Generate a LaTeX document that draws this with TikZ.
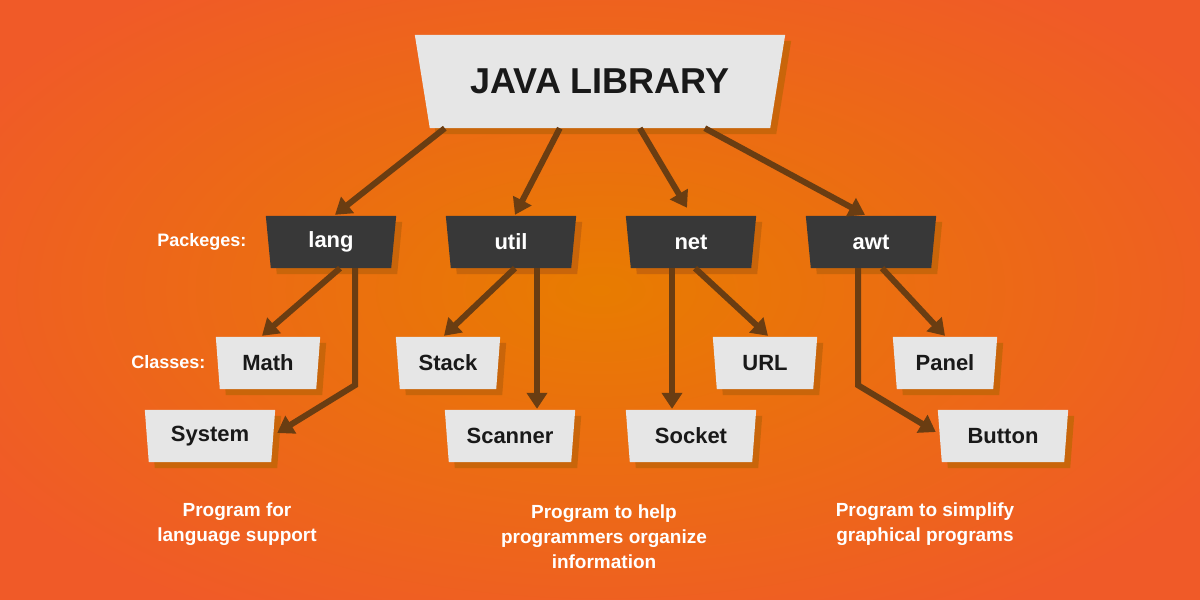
\documentclass[tikz,border=0pt]{standalone}
\usepackage{fontspec}
\setmainfont{Liberation Sans}
\usetikzlibrary{arrows.meta,calc}
\definecolor{bgout}{HTML}{F05A28}
\definecolor{bgin}{HTML}{E87C00}
\definecolor{arr}{HTML}{6A3D12}
\definecolor{dark}{HTML}{383838}
\definecolor{light}{HTML}{E6E6E6}
\definecolor{shad}{HTML}{C9650A}
\tikzset{
  arrow/.style={draw=arr,line width=6pt,-{Triangle[length=16pt,width=20pt]}},
  box/.style={minimum width=#1,minimum height=52pt,inner sep=0pt,font=\bfseries\fontsize{22}{24}\selectfont},
  pkg/.style={box=130pt,text=white},
  cls/.style={text=black!90},
  lbl/.style={text=white,font=\bfseries\fontsize{18}{20}\selectfont},
  note/.style={text=white,font=\bfseries\fontsize{19}{25}\selectfont,align=center},
}
\newcommand{\trap}[4]{% node, fill, top inset, bottom inset
  \fill[shad] ($(#1.north west)+(#3+6pt,-6pt)$) -- ($(#1.north east)+(6pt,-6pt)$) -- ($(#1.south east)+(6pt-#4,-6pt)$) -- ($(#1.south west)+(#4+6pt,-6pt)$) -- cycle;
  \fill[#2] ($(#1.north west)+(#3,0)$) -- (#1.north east) -- ($(#1.south east)+(-#4,0)$) -- ($(#1.south west)+(#4,0)$) -- cycle;}
\begin{document}
\begin{tikzpicture}[x=1pt,y=-1pt]
\useasboundingbox (0,0) rectangle (1200,600);
\fill[bgout] (0,0) rectangle (1200,600);
\begin{scope}
\clip (0,0) rectangle (1200,600);
\shade[inner color=bgin,outer color=bgout] (600,290) ellipse (720 and 380);
\end{scope}
% nodes (invisible boxes)
\node[box=370pt,minimum height=93pt] (title) at (600,81.5) {};
\node[pkg] (lang) at (331,242) {};
\node[pkg] (util) at (511,242) {};
\node[pkg] (net) at (691,242) {};
\node[pkg] (awt) at (871,242) {};
\node[box=104pt] (math) at (268,363) {};
\node[box=104pt] (stack) at (448,363) {};
\node[box=104pt] (url) at (765,363) {};
\node[box=104pt] (panel) at (945,363) {};
\node[box=130pt] (system) at (210,436) {};
\node[box=130pt] (scanner) at (510,436) {};
\node[box=130pt] (socket) at (691,436) {};
\node[box=130pt] (button) at (1003,436) {};
% shapes
\trap{title}{light}{0pt}{15pt}
\foreach \n in {lang,util,net,awt}{\trap{\n}{dark}{0pt}{5pt}}
\foreach \n in {math,stack,url,panel,system,scanner,socket,button}{\trap{\n}{light}{0pt}{4pt}}
% text
\node[font=\bfseries\fontsize{36}{40}\selectfont,text=black!90] at (title) {JAVA LIBRARY};
\node[pkg] at (lang) {lang};
\node[pkg] at (util) {util};
\node[pkg] at (net) {net};
\node[pkg] at (awt) {awt};
\foreach \n/\t in {math/Math,stack/Stack,url/URL,panel/Panel,system/System,scanner/Scanner,socket/Socket,button/Button}{\node[box=10pt,cls] at (\n) {\t};}
\node[lbl,anchor=east] (pl) at (250,242) {Packeges:};
\node[lbl,anchor=east] (cl) at (209,362) {Classes:};
\node[note] (n1) at (237,524) {Program for\\language support};
\node[note] (n2) at (604,537) {Program to help\\programmers organize\\information};
\node[note] (n3) at (925,524) {Program to simplify\\graphical programs};
% arrows
\draw[arrow] ($(title.south west)+(30,0)$) -- ($(lang.north)+(4,-1)$);
\draw[arrow] ($(title.south west)+(145,0)$) -- ($(util.north)+(4,-1)$);
\draw[arrow] ($(title.south west)+(225,0)$) -- ($(net.north)+(-4,-8)$);
\draw[arrow] ($(title.south west)+(290,0)$) -- ($(awt.north)+(-6,-1)$);
\draw[arrow] ($(lang.south)+(9,0)$) -- ($(math.north)+(-6,-1)$);
\draw[arrow] ($(lang.south)+(24,0)$) -- ++(0,117) -- ($(system.east)+(2,-3)$);
\draw[arrow] ($(util.south)+(4,0)$) -- ($(stack.north)+(-4,-1)$);
\draw[arrow] ($(util.south)+(26,0)$) -- ($(scanner.north)+(27,-1)$);
\draw[arrow] ($(net.south)+(-19,0)$) -- ($(socket.north)+(-19,-1)$);
\draw[arrow] ($(net.south)+(4,0)$) -- ($(url.north)+(3,-1)$);
\draw[arrow] ($(awt.south)+(11,0)$) -- ($(panel.north)+(0,-1)$);
\draw[arrow] ($(awt.south)+(-13,0)$) -- ++(0,117) -- ($(button.west)+(-2,-4)$);
\end{tikzpicture}
\end{document}
